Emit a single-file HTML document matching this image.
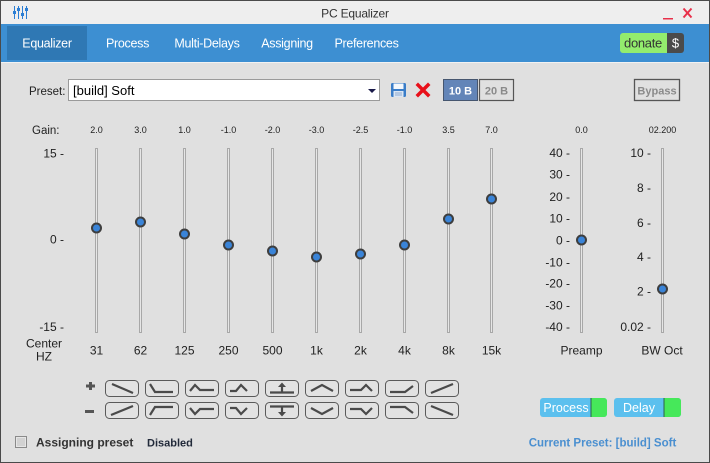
<!DOCTYPE html>
<html>
<head>
<meta charset="utf-8">
<style>
html,body{margin:0;padding:0;background:#e0e0e0;}
body{width:710px;height:463px;overflow:hidden;}
svg{display:block;}
text{font-family:"Liberation Sans","DejaVu Sans",sans-serif;}
</style>
</head>
<body>
<svg width="710" height="463" viewBox="0 0 710 463" xmlns="http://www.w3.org/2000/svg">
  <rect x="0" y="0" width="710" height="463" fill="#e0e0e0"/>
  <rect x="0" y="0" width="710" height="24" fill="#eeeeee"/>
  <rect x="0" y="24" width="710" height="38" fill="#3d8fd2"/>
  <rect x="0" y="62" width="710" height="1" fill="#f2f2f2"/>
  <rect x="7" y="26" width="80" height="34" fill="#2f78b4"/>
  <rect x="0.5" y="0.5" width="709" height="462" fill="none" stroke="#4a4a4a" stroke-width="1"/>

  <g stroke="#2a7dd4" stroke-width="1">
    <line x1="14.5" y1="6" x2="14.5" y2="19"/>
    <line x1="18.5" y1="6" x2="18.5" y2="19"/>
    <line x1="22.5" y1="6" x2="22.5" y2="19"/>
    <line x1="26.5" y1="6" x2="26.5" y2="19"/>
  </g>
  <g fill="#2a7dd4">
    <rect x="13" y="11" width="3" height="3"/>
    <rect x="17" y="8" width="3" height="3"/>
    <rect x="21" y="13" width="3" height="3"/>
    <rect x="25" y="8" width="3" height="3"/>
  </g>
  <text x="355" y="17.5" font-size="12" fill="#333" text-anchor="middle" letter-spacing="-0.2">PC Equalizer</text>
  <rect x="663" y="18" width="10" height="1.5" fill="#e8304a"/>
  <g stroke="#e8304a" stroke-width="2">
    <line x1="683.5" y1="8.5" x2="691.5" y2="17.5"/>
    <line x1="691.5" y1="8.5" x2="683.5" y2="17.5"/>
  </g>

  <g font-size="12.5" fill="#ffffff" text-anchor="middle" letter-spacing="-0.3">
    <text x="47" y="47.5">Equalizer</text>
    <text x="127.5" y="47.5">Process</text>
    <text x="207" y="47.5">Multi-Delays</text>
    <text x="287" y="47.5">Assigning</text>
    <text x="366.5" y="47.5">Preferences</text>
  </g>
  <rect x="620" y="33" width="50" height="20" rx="3" fill="#93ec6d"/>
  <rect x="667" y="33" width="17" height="20" rx="3" fill="#4b4b4b"/>
  <rect x="667" y="33" width="4" height="20" fill="#4b4b4b"/>
  <text x="643" y="47.5" font-size="13" fill="#333" text-anchor="middle" letter-spacing="-0.3">donate</text>
  <text x="675.5" y="47.5" font-size="13" fill="#ffffff" text-anchor="middle">$</text>

  <text x="29" y="95" font-size="11.5" fill="#222">Preset:</text>
  <rect x="68.5" y="79.5" width="311" height="21" fill="#ffffff" stroke="#9a9a9a"/>
  <text x="73" y="95" font-size="13" fill="#000">[build] Soft</text>
  <polygon points="368,89 376,89 372,93" fill="#1a1a4a"/>
  <rect x="391" y="83" width="15" height="14" rx="1.5" fill="#3a7dc8"/>
  <rect x="393.5" y="83.5" width="10" height="5.5" fill="#f4f8fc"/>
  <rect x="393.5" y="91" width="10" height="6" fill="#dbe6f3"/>
  <line x1="395" y1="93" x2="402" y2="93" stroke="#7a9cc8" stroke-width="0.8"/>
  <line x1="395" y1="95" x2="402" y2="95" stroke="#7a9cc8" stroke-width="0.8"/>
  <g stroke="#e8101a" stroke-width="3.5" stroke-linecap="square">
    <line x1="418" y1="85" x2="428" y2="95"/>
    <line x1="428" y1="85" x2="418" y2="95"/>
  </g>
  <rect x="443.5" y="79.5" width="34" height="21" fill="#6385b8" stroke="#46566f"/>
  <text x="460.5" y="94.5" font-size="11" font-weight="bold" fill="#fff" text-anchor="middle">10 B</text>
  <rect x="479.5" y="79.5" width="34" height="21" fill="#e0e0e0" stroke="#555" stroke-width="1.2"/>
  <text x="496.5" y="94.5" font-size="11" font-weight="bold" fill="#8a8a8a" text-anchor="middle">20 B</text>
  <rect x="634.5" y="79.5" width="45" height="21" fill="none" stroke="#555" stroke-width="1.3"/>
  <text x="657" y="94.5" font-size="11" font-weight="bold" fill="#8a8a8a" text-anchor="middle">Bypass</text>

  <text x="32" y="134" font-size="11.5" fill="#222">Gain:</text>
  <g font-size="9" fill="#222" text-anchor="middle">
    <text x="96.5" y="133">2.0</text>
    <text x="140.5" y="133">3.0</text>
    <text x="184.5" y="133">1.0</text>
    <text x="228.5" y="133">-1.0</text>
    <text x="272.5" y="133">-2.0</text>
    <text x="316.5" y="133">-3.0</text>
    <text x="360.5" y="133">-2.5</text>
    <text x="404.5" y="133">-1.0</text>
    <text x="448.5" y="133">3.5</text>
    <text x="491.5" y="133">7.0</text>
    <text x="581.5" y="133">0.0</text>
    <text x="662.5" y="133">02.200</text>
  </g>

  <g font-size="12" fill="#222" text-anchor="end">
    <text x="64" y="157.3">15 -</text>
    <text x="64" y="243.3">0 -</text>
    <text x="64" y="331">-15 -</text>
  </g>

  <g fill="#a8a8a8">
    <rect x="95" y="148" width="3" height="185"/>
    <rect x="139" y="148" width="3" height="185"/>
    <rect x="183" y="148" width="3" height="185"/>
    <rect x="227" y="148" width="3" height="185"/>
    <rect x="271" y="148" width="3" height="185"/>
    <rect x="315" y="148" width="3" height="185"/>
    <rect x="359" y="148" width="3" height="185"/>
    <rect x="403" y="148" width="3" height="185"/>
    <rect x="447" y="148" width="3" height="185"/>
    <rect x="490" y="148" width="3" height="185"/>
    <rect x="580" y="148" width="3" height="185"/>
    <rect x="661" y="148" width="3" height="185"/>
  </g>
  <g fill="#e6e6e6">
    <rect x="96" y="149" width="1" height="183"/>
    <rect x="140" y="149" width="1" height="183"/>
    <rect x="184" y="149" width="1" height="183"/>
    <rect x="228" y="149" width="1" height="183"/>
    <rect x="272" y="149" width="1" height="183"/>
    <rect x="316" y="149" width="1" height="183"/>
    <rect x="360" y="149" width="1" height="183"/>
    <rect x="404" y="149" width="1" height="183"/>
    <rect x="448" y="149" width="1" height="183"/>
    <rect x="491" y="149" width="1" height="183"/>
    <rect x="581" y="149" width="1" height="183"/>
    <rect x="662" y="149" width="1" height="183"/>
  </g>
  <g fill="#3a84d8" stroke="#3e3e3e" stroke-width="2">
    <circle cx="96.5" cy="228" r="4.5"/>
    <circle cx="140.5" cy="222" r="4.5"/>
    <circle cx="184.5" cy="234" r="4.5"/>
    <circle cx="228.5" cy="245" r="4.5"/>
    <circle cx="272.5" cy="251" r="4.5"/>
    <circle cx="316.5" cy="257" r="4.5"/>
    <circle cx="360.5" cy="254" r="4.5"/>
    <circle cx="404.5" cy="245" r="4.5"/>
    <circle cx="448.5" cy="219" r="4.5"/>
    <circle cx="491.5" cy="199" r="4.5"/>
    <circle cx="581.5" cy="240" r="4.5"/>
    <circle cx="662.5" cy="289" r="4.5"/>
  </g>

  <g font-size="12" fill="#222" text-anchor="middle">
    <text x="44" y="347.5">Center</text>
    <text x="44" y="360.5">HZ</text>
    <text x="96.5" y="354.5">31</text>
    <text x="140.5" y="354.5">62</text>
    <text x="184.5" y="354.5">125</text>
    <text x="228.5" y="354.5">250</text>
    <text x="272.5" y="354.5">500</text>
    <text x="316.5" y="354.5">1k</text>
    <text x="360.5" y="354.5">2k</text>
    <text x="404.5" y="354.5">4k</text>
    <text x="448.5" y="354.5">8k</text>
    <text x="491.5" y="354.5">15k</text>
    <text x="581.5" y="354.5">Preamp</text>
    <text x="662" y="354.5">BW Oct</text>
  </g>

  <g font-size="12" fill="#222" text-anchor="end">
    <text x="570" y="157">40 -</text>
    <text x="570" y="178.6">30 -</text>
    <text x="570" y="201">20 -</text>
    <text x="570" y="222.6">10 -</text>
    <text x="570" y="244.3">0 -</text>
    <text x="570" y="266.3">-10 -</text>
    <text x="570" y="287.6">-20 -</text>
    <text x="570" y="309.3">-30 -</text>
    <text x="570" y="331">-40 -</text>
  </g>
  <g font-size="12" fill="#222" text-anchor="end">
    <text x="651" y="157">10 -</text>
    <text x="651" y="192">8 -</text>
    <text x="651" y="227">6 -</text>
    <text x="651" y="261">4 -</text>
    <text x="651" y="295.6">2 -</text>
    <text x="651" y="331">0.02 -</text>
  </g>

  <rect x="86" y="384.5" width="9" height="3" fill="#555"/>
  <rect x="89" y="382" width="3" height="8" fill="#555"/>
  <rect x="85" y="410" width="9" height="3" fill="#555"/>

  <g fill="#e2e2e2" stroke="#5a5a5a" stroke-width="1">
    <rect x="105.5" y="380.5" width="33" height="16" rx="4"/>
    <rect x="145.5" y="380.5" width="33" height="16" rx="4"/>
    <rect x="185.5" y="380.5" width="33" height="16" rx="4"/>
    <rect x="225.5" y="380.5" width="33" height="16" rx="4"/>
    <rect x="265.5" y="380.5" width="33" height="16" rx="4"/>
    <rect x="305.5" y="380.5" width="33" height="16" rx="4"/>
    <rect x="345.5" y="380.5" width="33" height="16" rx="4"/>
    <rect x="385.5" y="380.5" width="33" height="16" rx="4"/>
    <rect x="425.5" y="380.5" width="33" height="16" rx="4"/>
    <rect x="105.5" y="402.5" width="33" height="16" rx="4"/>
    <rect x="145.5" y="402.5" width="33" height="16" rx="4"/>
    <rect x="185.5" y="402.5" width="33" height="16" rx="4"/>
    <rect x="225.5" y="402.5" width="33" height="16" rx="4"/>
    <rect x="265.5" y="402.5" width="33" height="16" rx="4"/>
    <rect x="305.5" y="402.5" width="33" height="16" rx="4"/>
    <rect x="345.5" y="402.5" width="33" height="16" rx="4"/>
    <rect x="385.5" y="402.5" width="33" height="16" rx="4"/>
    <rect x="425.5" y="402.5" width="33" height="16" rx="4"/>
  </g>
  <g fill="none" stroke="#4a4a4a" stroke-width="2.2" stroke-linejoin="miter">
    <g transform="translate(105,380)"><path d="M7,4 L28,13"/></g>
    <g transform="translate(145,380)"><path d="M5,4 L10,12 L28,12"/></g>
    <g transform="translate(185,380)"><path d="M5,11 L10,5 L15,10 L29,10"/></g>
    <g transform="translate(225,380)"><path d="M5,11 L11,11 L16,5 L22,11"/></g>
    <g transform="translate(265,380)"><path d="M5,12.5 L29,12.5 M17,12 L17,6"/></g>
    <g transform="translate(305,380)"><path d="M6,11 L17,5 L28,11"/></g>
    <g transform="translate(345,380)"><path d="M5,10 L16,10 L21,5 L27,11"/></g>
    <g transform="translate(385,380)"><path d="M5,12 L20,12 L28,6"/></g>
    <g transform="translate(425,380)"><path d="M6,13 L28,4"/></g>
  </g>
  <polygon points="278,387 286,387 282,382.5" fill="#4a4a4a"/>
  <g fill="none" stroke="#4a4a4a" stroke-width="2.2" stroke-linejoin="miter">
    <g transform="translate(105,402)"><path d="M6,13 L28,4"/></g>
    <g transform="translate(145,402)"><path d="M5,13 L10,5 L28,5"/></g>
    <g transform="translate(185,402)"><path d="M5,6 L10,12 L15,7 L29,7"/></g>
    <g transform="translate(225,402)"><path d="M5,6 L11,6 L16,12 L22,6"/></g>
    <g transform="translate(265,402)"><path d="M5,4.5 L29,4.5 M17,5 L17,11"/></g>
    <g transform="translate(305,402)"><path d="M6,6 L17,12 L28,6"/></g>
    <g transform="translate(345,402)"><path d="M5,7 L16,7 L21,12 L27,6"/></g>
    <g transform="translate(385,402)"><path d="M5,5 L20,5 L28,11"/></g>
    <g transform="translate(425,402)"><path d="M6,4 L28,13"/></g>
  </g>
  <polygon points="278,412 286,412 282,416.5" fill="#4a4a4a"/>

  <rect x="540" y="398" width="67" height="19" rx="3" fill="#5cc0ee"/>
  <rect x="591" y="398" width="16" height="19" rx="3" fill="#46e85a"/>
  <rect x="591" y="398" width="4" height="19" fill="#46e85a"/>
  <rect x="590.5" y="398" width="1" height="19" fill="#2f5f4a"/>
  <text x="566" y="412" font-size="12.5" fill="#fff" text-anchor="middle">Process</text>
  <rect x="614" y="398" width="67" height="19" rx="3" fill="#5cc0ee"/>
  <rect x="664" y="398" width="17" height="19" rx="3" fill="#46e85a"/>
  <rect x="664" y="398" width="4" height="19" fill="#46e85a"/>
  <rect x="663.5" y="398" width="1" height="19" fill="#2f5f4a"/>
  <text x="639" y="412" font-size="12.5" fill="#fff" text-anchor="middle">Delay</text>

  <rect x="15.5" y="436.5" width="11" height="11" fill="#e6e6e6" stroke="#8a8a8a"/>
  <rect x="17" y="438" width="8" height="8" fill="#d2d2d2"/>
  <text x="36" y="446.5" font-size="12" font-weight="bold" fill="#333">Assigning preset</text>
  <text x="147" y="446.5" font-size="11" font-weight="bold" fill="#222a3a">Disabled</text>
  <text x="602.5" y="446.5" font-size="11.5" font-weight="bold" fill="#4a8fd0" text-anchor="middle">Current Preset: [build] Soft</text>
</svg>
</body>
</html>
